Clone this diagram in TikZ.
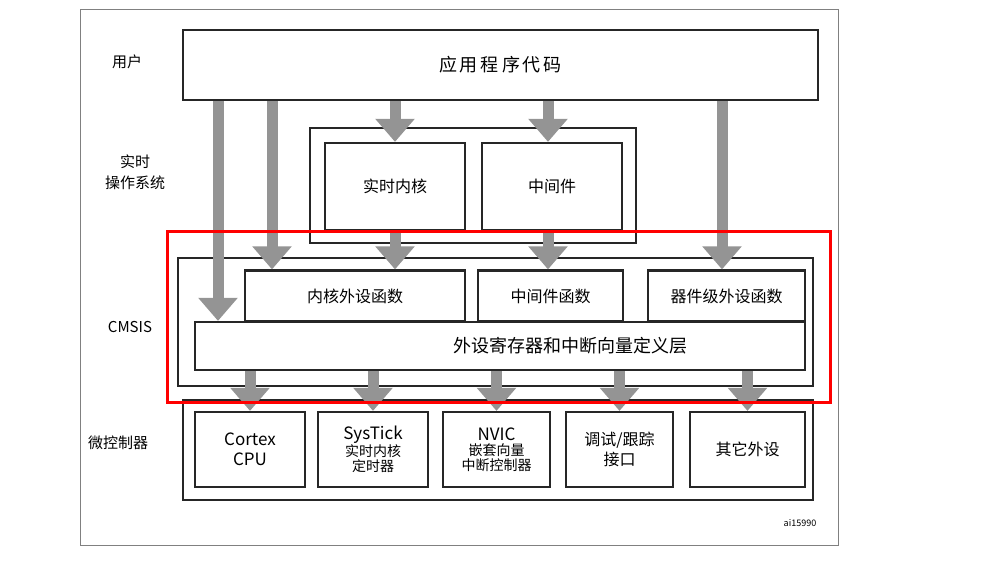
\documentclass[tikz,border=0pt]{standalone}
\usepackage{fontspec}
\setmainfont{Noto Sans CJK SC}
\usetikzlibrary{arrows.meta,calc}
\tikzset{
 box/.style={draw=black!85,line width=2.2pt,fill=white,inner sep=0pt,font=\fontsize{16}{18}\selectfont},
 sbox/.style={box,font=\fontsize{14}{15}\selectfont,align=center},
 frame/.style={draw=black!85,line width=2.2pt},
 side/.style={font=\fontsize{15}{17}\selectfont,align=center},
 fat/.style={draw=black!42,line width=11pt,-{Triangle[width=38pt,length=23pt]}}
}
\begin{document}
\begin{tikzpicture}[x=1pt,y=-1pt]
\useasboundingbox (0,0) rectangle (986,561);
\draw[black!50,line width=1pt] (80,10) rectangle (838,545);
% frames
\node[frame,minimum width=326,minimum height=115] (rtosf) at (473,185.5) {};
\node[frame,minimum width=635,minimum height=128] (cmsisf) at (495.5,322) {};
\node[frame,minimum width=630,minimum height=100] (mcuf) at (498,450) {};
% app
\node[box,minimum width=635,minimum height=70,font=\fontsize{18}{20}\selectfont] (app) at (500.5,65) {应\,用\,程\,序\,代\,码};
% rtos
\node[box,minimum width=140,minimum height=87] (rt) at (395,186.5) {实时内核};
\node[box,minimum width=140,minimum height=87] (mw) at (552,186.5) {中间件};
% cmsis
\node[box,minimum width=220,minimum height=51] (cp) at (355,296) {内核外设函数};
\node[box,minimum width=145,minimum height=51] (mf) at (550.5,296) {中间件函数};
\node[box,minimum width=157,minimum height=51] (dp) at (726.5,296) {器件级外设函数};
\node[box,minimum width=610,minimum height=48,font=\fontsize{18}{20}\selectfont] (layer) at (500,346) {\hspace{140pt}外设寄存器和中断向量定义层};
% mcu
\node[sbox,minimum width=110,minimum height=75,font=\fontsize{17}{20}\selectfont] (cpu) at (250,449.5) {Cortex\\CPU};
\node[sbox,minimum width=110,minimum height=75] (st) at (373,449.5) {{\fontsize{17}{19}\selectfont SysTick}\\实时内核\\定时器};
\node[sbox,minimum width=107,minimum height=75] (nv) at (496.5,449.5) {{\fontsize{17}{19}\selectfont NVIC}\\嵌套向量\\中断控制器};
\node[sbox,minimum width=107,minimum height=75,font=\fontsize{16}{20}\selectfont] (dbg) at (619.5,449.5) {调试/跟踪\\接口};
\node[sbox,minimum width=115,minimum height=75,font=\fontsize{16}{18}\selectfont] (oth) at (747.5,449.5) {其它外设};
% arrows
\draw[fat] (app.south -| 218,0) -- (layer.north -| 218,0);
\draw[fat] (app.south -| 272,0) -- (cp.north -| 272,0);
\draw[fat] (app.south -| 395,0) -- (rt.north);
\draw[fat] (app.south -| 548,0) -- (mw.north -| 548,0);
\draw[fat] (app.south -| 722,0) -- (dp.north -| 722,0);
\draw[fat] (rt.south) -- (cp.north -| rt.south);
\draw[fat] (mw.south -| 548,0) -- (mf.north -| 548,0);
\draw[fat] (layer.south -| cpu.north) -- (cpu.north);
\draw[fat] (layer.south -| st.north) -- (st.north);
\draw[fat] (layer.south -| nv.north) -- (nv.north);
\draw[fat] (layer.south -| dbg.north) -- (dbg.north);
\draw[fat] (layer.south -| oth.north) -- (oth.north);
% side labels
\node[side] (l1) at (127,62) {用户};
\node[side,font=\fontsize{15}{21}\selectfont] (l2) at (135,172) {实时\\操作系统};
\node[side] (l3) at (130,327) {CMSIS};
\node[side] (l4) at (118,443) {微控制器};
\node[font=\fontsize{9}{11}\selectfont] (id) at (800,523) {ai15990};
% red highlight
\draw[red,line width=3pt] (167,232) rectangle (830,403);
\end{tikzpicture}
\end{document}
